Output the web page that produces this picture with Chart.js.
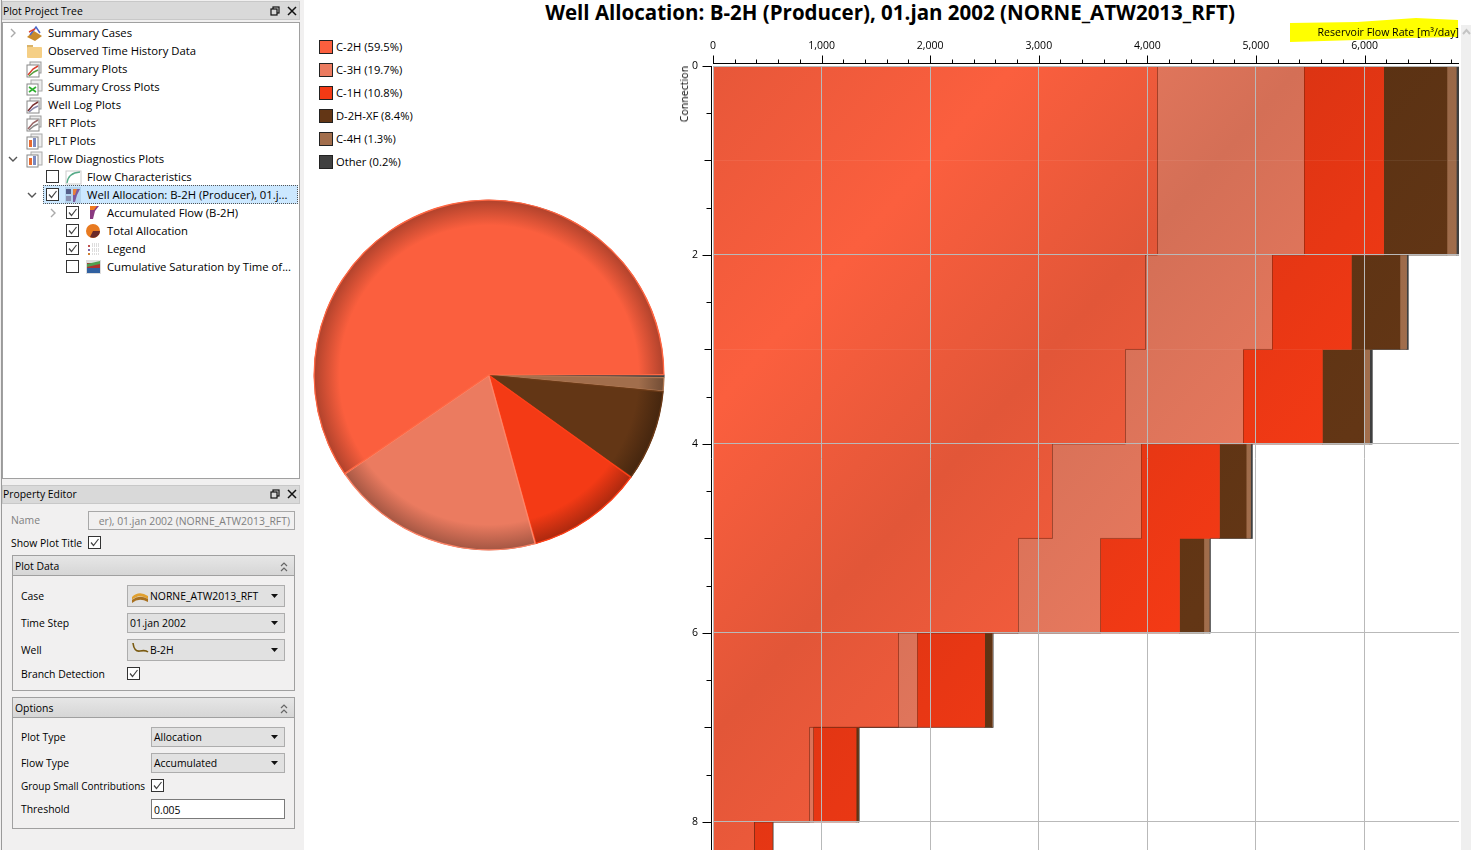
<!DOCTYPE html>
<html><head><meta charset="utf-8">
<script src="https://cdn.jsdelivr.net/npm/chart.js@4"></script>
<style>
html,body{margin:0;padding:0;background:#fff;width:1471px;height:850px;overflow:hidden;font-family:"Open Sans",sans-serif;font-size:11.3px;color:#000}
.a{position:absolute;white-space:nowrap}
.t{line-height:16px;transform:translateY(-8px)}
canvas{position:absolute}
.cb{position:absolute;width:11px;height:11px;border:1px solid #333;background:#fff}
.combo{position:absolute;background:#e1e1e1;border:1px solid #adadad;box-sizing:border-box}
.hdr{position:absolute;background:#d9d9d9;box-sizing:border-box}
.box{position:absolute;border:1px solid #a0a0a0;box-sizing:border-box}
</style></head><body>
<div class="a" style="left:0;top:0;width:304px;height:850px;background:#f1f0f0"></div>
<div class="a" style="left:1px;top:0;width:1px;height:850px;background:#9a9a9a"></div>
<div class="hdr" style="left:2px;top:1px;width:298px;height:19px;border:1px solid #c8c8c8"></div>
<div class="box" style="left:2px;top:22px;width:298px;height:457px;background:#fff"></div>
<div class="a" style="left:43px;top:185px;width:255px;height:19px;background:#cce8ff;border:1px dotted #555;box-sizing:border-box"></div>
<div class="hdr" style="left:2px;top:485px;width:298px;height:19px;border:1px solid #c8c8c8"></div>
<div class="box" style="left:12px;top:555px;width:283px;height:136px"></div>
<div class="hdr" style="left:13px;top:556px;width:281px;height:20px;background:linear-gradient(#e6e6e6,#d6d6d6);border-bottom:1px solid #a0a0a0"></div>
<div class="box" style="left:12px;top:697px;width:283px;height:132px"></div>
<div class="hdr" style="left:13px;top:698px;width:281px;height:20px;background:linear-gradient(#e6e6e6,#d6d6d6);border-bottom:1px solid #a0a0a0"></div>
<div class="a" style="left:1290px;top:18px;width:168px;height:24px;background:#ffff00;clip-path:polygon(0 5px,40% 4px,75% 0,100% 2px,100% 19px,70% 20px,40% 22px,0 24px)"></div>
<div class="a" style="left:1461px;top:25px;width:10px;height:825px;background:#efefef"></div>
<svg class="a" style="left:1462px;top:28px" width="9" height="8"><path d="M1 6 L4.5 2 L8 6" fill="none" stroke="#c4c4c4" stroke-width="2"/></svg>
<div id="ui"></div>
<div class="a" id="title" style="left:490px;top:0;width:800px;text-align:center;font-weight:700;font-size:20.5px;line-height:24px">Well Allocation: B-2H (Producer), 01.jan 2002 (NORNE_ATW2013_RFT)</div>
<div id="legend"></div>
<canvas id="pie" width="370" height="370" style="left:304px;top:190px;width:370px;height:370px"></canvas>
<canvas id="flow" width="801" height="850" style="left:670px;top:22px;width:801px;height:850px"></canvas>
<div class="a" style="left:676px;top:66px;line-height:16px;font-size:10.6px;writing-mode:vertical-rl;transform:rotate(180deg)">Connection</div>
<script>
// ---- data ----
const seriesNames = ["C-2H","C-3H","C-1H","D-2H-XF","C-4H","Other"];
const totalPercent = [59.5,19.7,10.8,8.4,1.3,0.2];
const seriesColors = ["#fb5f3e","#eb7b60","#f43a15","#633615","#a26e4c","#404040"];
const connections = [0.5,1.5,2.5,3.5,4.5,5.5,6.5,7.5,8.5];
const flowC2H = [4091,4091,3980,3794,3119,2806,1708,886,380];
const flowC3H = [1349,1349,1166,1085,822,761,172,38,0];
const flowC1H = [736,736,733,733,723,729,622,394,166];
const flowD2H = [583,583,447,386,246,224,65,22,2];
const flowC4H = [86,86,61,49,40,50,6,2,0];
const flowOther = [22,22,13,22,15,9,2,1,0];
const flows = [flowC2H,flowC3H,flowC1H,flowD2H,flowC4H,flowOther];
const flowTicks = [0,1000,2000,3000,4000,5000,6000];
const connectionTicks = [0,2,4,6,8];
const FLOW_MAX = 6870, CONN_MAX = 8.305;

// ---- panel text ----
const ui = document.getElementById('ui');
function txt(s,x,y,extra){ui.insertAdjacentHTML('beforeend',`<div class="a t" style="left:${x}px;top:${y}px;${extra||''}">${s}</div>`)}
function cb(x,y,on){ui.insertAdjacentHTML('beforeend',`<div class="cb" style="left:${x}px;top:${y}px">${on?'<svg width="11" height="11" style="display:block"><path d="M2 5.5 L4.5 8.5 L9.5 2" fill="none" stroke="#444" stroke-width="1.2"/></svg>':''}</div>`)}
function svg(x,y,w,h,b){ui.insertAdjacentHTML('beforeend',`<svg class="a" style="left:${x}px;top:${y}px" width="${w}" height="${h}">${b}</svg>`)}
function arrow(x,y,down,col){svg(x,y,10,10,down?`<path d="M1 3 L5 7 L9 3" fill="none" stroke="${col}" stroke-width="1.4"/>`:`<path d="M3 1 L7 5 L3 9" fill="none" stroke="${col}" stroke-width="1.4"/>`)}
const stack=(c1,c2)=>`<rect x="4" y="1" width="11" height="11" fill="#eee" stroke="#999"/><rect x="1" y="4" width="12" height="12" fill="#fff" stroke="#888"/><path d="M2 14 L7 8 L12 5" stroke="${c1}" fill="none" stroke-width="1.5"/><path d="M3 15 L8 11 L12 9" stroke="${c2}" fill="none" stroke-width="1.5"/>`;
const icons={
 cases:`<path d="M1 12 L8 6 L16 11 L9 16Z" fill="#c98a2a"/><path d="M4 10 L10 2 L14 8" fill="none" stroke="#4a66c8" stroke-width="1.5"/><path d="M3 7 L9 4" stroke="#e04030" stroke-width="1.4"/>`,
 folder:`<rect x="1" y="2" width="6" height="3" fill="#d9b36a"/><rect x="1" y="4" width="15" height="11" rx="1" fill="#f5cf86"/>`,
 plots:stack('#d84030','#58a040'),
 cross:`<rect x="5" y="1" width="11" height="11" fill="#eee" stroke="#aaa"/><rect x="1" y="5" width="11" height="11" fill="#fff" stroke="#888"/><path d="M3 8 L10 13 M3 13 L10 8" stroke="#30b030" stroke-width="1.6"/>`,
 log:stack('#7a3030','#8888aa'),
 rft:stack('#996666','#888888'),
 plt:`<rect x="5" y="1" width="11" height="13" fill="#eee" stroke="#aaa"/><rect x="1" y="4" width="11" height="12" fill="#fff" stroke="#888"/><rect x="3" y="7" width="3" height="7" fill="#e86a30"/><rect x="7" y="5" width="3" height="9" fill="#7a88c0"/>`,
 flowchar:`<rect x="1" y="2" width="15" height="13" fill="#fff" stroke="#ccc"/><path d="M2 14 Q3 4 15 3" fill="none" stroke="#55aa88" stroke-width="1.3"/>`,
 wellalloc:`<rect x="0" y="0" width="16" height="16" fill="#b4d4ee"/><rect x="1" y="2" width="5" height="5" fill="#55608a"/><rect x="1" y="9" width="5" height="5" fill="#8890b0"/><path d="M8 2 H15 L12 8 L10 15 H8Z" fill="#7a5aa0"/><path d="M8 2 H12 L10 8 H8Z" fill="#e8803a"/>`,
 acc:`<path d="M4 1 H13 L9 6 L7 14 H4Z" fill="#8a3a80"/><path d="M4 1 H11 L8 5 H4Z" fill="#f07a20"/>`,
 total:`<circle cx="8" cy="8" r="7" fill="#e87a20"/><path d="M8 8 L15 8 A7 7 0 0 1 5 14Z" fill="#6a2a2a"/>`,
 legend:`<g fill="#c0504d"><rect x="3" y="4" width="2" height="2"/><rect x="3" y="8" width="2" height="2" fill="#8064a2"/><rect x="3" y="12" width="2" height="2" fill="#d08030"/></g><path d="M7 3h8M7 5h8M7 8h8M7 10h8M7 13h8" stroke="#bbb" stroke-dasharray="1 1"/>`,
 sat:`<rect x="1" y="1" width="15" height="14" fill="#ddd"/><rect x="2" y="4" width="13" height="5" fill="#b03030"/><rect x="2" y="9" width="13" height="5" fill="#3060a0"/><path d="M2 5 L15 2 V5 L2 8Z" fill="#50a050"/>`
};
const tree=[
 ["Summary Cases",48,33,26,'cases'],["Observed Time History Data",48,51,26,'folder'],["Summary Plots",48,69,26,'plots'],
 ["Summary Cross Plots",48,87,26,'cross'],["Well Log Plots",48,105,26,'log'],["RFT Plots",48,123,26,'rft'],
 ["PLT Plots",48,141,26,'plt'],["Flow Diagnostics Plots",48,159,26,'plt'],
 ["Flow Characteristics",87,177,65,'flowchar'],["Well Allocation: B-2H (Producer), 01.j...",87,195,65,'wellalloc'],
 ["Accumulated Flow (B-2H)",107,213,86,'acc'],["Total Allocation",107,231,85,'total'],["Legend",107,249,85,'legend'],
 ["Cumulative Saturation by Time of...",107,267,85,'sat']];
tree.forEach(r=>{txt(r[0],r[1],r[2]);svg(r[3],r[2]-8,17,17,icons[r[4]])});
arrow(8,28,false,'#aaa');arrow(8,154,true,'#555');arrow(27,190,true,'#555');arrow(48,208,false,'#aaa');
cb(46,170,false);cb(46,188,true);cb(66,206,true);cb(66,224,true);cb(66,242,true);cb(66,260,false);
const small='font-size:10.4px;';
txt("Plot Project Tree",3,11,small);txt("Property Editor",3,494,small);
function winBtns(y){svg(270,y,10,10,'<rect x="3" y="1" width="6" height="6" fill="none" stroke="#111" stroke-width="1.2"/><rect x="1" y="3" width="6" height="6" fill="#d9d9d9" stroke="#111" stroke-width="1.2"/>');svg(287,y,10,10,'<path d="M1 1 L9 9 M9 1 L1 9" stroke="#111" stroke-width="1.5"/>')}
winBtns(6);winBtns(489);
function chev(y){svg(279,y,10,11,'<path d="M2 5 L5 2 L8 5 M2 10 L5 7 L8 10" fill="none" stroke="#666" stroke-width="1.2"/>')}
ui.insertAdjacentHTML('beforeend','<div class="a" style="left:88px;top:511px;width:207px;height:19px;border:1px solid #a8a8a8;box-sizing:border-box;overflow:hidden;color:#808080;line-height:18px;text-align:right;padding-right:4px;font-size:10.4px">er), 01.jan 2002 (NORNE_ATW2013_RFT)</div>');
txt("Name",11,520,small+'color:#808080');txt("Show Plot Title",11,543,small);cb(88,536,true);
txt("Plot Data",15,566,small);chev(561);txt("Options",15,708,small);chev(703);
function combo(x,y,w,h,s,tx,ic){ui.insertAdjacentHTML('beforeend',`<div class="combo" style="left:${x}px;top:${y}px;width:${w}px;height:${h}px"></div>`);txt(s,tx,y+h/2,'font-size:10.4px');svg(x+w-14,y+h/2-3,8,6,'<path d="M0 1 H7 L3.5 5Z" fill="#111"/>');if(ic)svg(x+5,y+3,18,16,ic)}
txt("Case",21,596,small);combo(127,585,158,22,"NORNE_ATW2013_RFT",150,'<path d="M0 9 Q7 2 16 8 V11 Q7 5 0 12Z" fill="#e0a030"/><path d="M0 12 Q7 6 16 11 V14 Q7 9 0 15Z" fill="#a87020"/>');
txt("Time Step",21,623,small);combo(127,613,158,20,"01.jan 2002",130);
txt("Well",21,650,small);combo(127,639,158,22,"B-2H",150,'<path d="M1 1 Q2 10 8 9 T16 10" fill="none" stroke="#7a5a10" stroke-width="1.6"/>');
txt("Branch Detection",21,674,small);cb(127,667,true);
txt("Plot Type",21,737,small);combo(151,727,134,20,"Allocation",154);
txt("Flow Type",21,763,small);combo(151,753,134,20,"Accumulated",154);
txt("Group Small Contributions",21,786,'font-size:10px');cb(151,779,true);
txt("Threshold",21,809,small);
ui.insertAdjacentHTML('beforeend','<div class="a" style="left:151px;top:799px;width:134px;height:20px;background:#fff;border:1px solid #7a7a7a;box-sizing:border-box"></div>');txt("0.005",154,810,small);

// ---- legend ----
const lg=document.getElementById('legend');
seriesNames.forEach((n,i)=>{const y=47+23*i;
 lg.insertAdjacentHTML('beforeend',`<div class="a" style="left:319px;top:${y-7}px;width:12px;height:12px;border:1px solid #222;background:${seriesColors[i]}"></div><div class="a t" style="left:336px;top:${y}px;font-size:11.2px">${n} (${totalPercent[i]}%)</div>`)});

// ---- helpers ----
function shade(hex,f){const n=parseInt(hex.slice(1),16);const c=v=>Math.min(255,Math.round(v*f));return `rgb(${c(n>>16)},${c((n>>8)&255)},${c(n&255)})`}
Chart.defaults.animation=false;
Chart.defaults.font.family='"Open Sans",sans-serif';
Chart.defaults.color='#000';

// ---- pie ----
const pieOrder=[...seriesNames.keys()].reverse();
new Chart(document.getElementById('pie'),{
 type:'pie',
 data:{labels:pieOrder.map(i=>seriesNames[i]),datasets:[{
  data:pieOrder.map(i=>totalPercent[i]),
  backgroundColor(c){
    const col=seriesColors[pieOrder[c.dataIndex]];
    const a=c.chart.chartArea;if(!a)return col;
    const cx=(a.left+a.right)/2,cy=(a.top+a.bottom)/2;
    const g=c.chart.ctx.createRadialGradient(cx,cy,0,cx,cy,176);
    g.addColorStop(0,col);g.addColorStop(0.85,col);g.addColorStop(0.985,shade(col,0.72));g.addColorStop(1,shade(col,0.72));
    return g;
  },
  borderColor:pieOrder.map(i=>shade(seriesColors[i],1.08)),borderWidth:1,borderAlign:'inner'
 }]},
 options:{responsive:false,rotation:90,radius:175.5,plugins:{legend:{display:false},tooltip:{enabled:false}}}
});

// ---- stacked flow chart ----
function bandFill(ctx,col){
  const g=ctx.createLinearGradient(43,44,853,754);
  [[0,0.92],[0.21,1],[0.41,0.9],[0.67,1],[1,0.93]].forEach(s=>g.addColorStop(s[0],shade(col,s[1])));
  return g;
}
const axesPlugin={
 id:'axesPlugin',
 afterDatasetsDraw(chart){
  const {ctx,scales:{x,y},chartArea:a}=chart;
  ctx.save();
  ctx.beginPath();ctx.rect(a.left,a.top,a.right-a.left,a.bottom-a.top);ctx.clip();
  [[0,'rgba(110,35,15,.55)'],[1,'rgba(120,35,10,.55)'],[5,'rgba(60,60,60,.5)']].forEach(([k,col])=>{
    ctx.beginPath();
    connections.forEach((c,i)=>{
      let sum=0;for(let s=0;s<=k;s++)sum+=flows[s][i];
      const px=Math.round(x.getPixelForValue(sum))+.5,t=y.getPixelForValue(c-.5),b=y.getPixelForValue(c+.5);
      if(i===0)ctx.moveTo(px,t);else ctx.lineTo(px,t);
      ctx.lineTo(px,b);
    });
    ctx.strokeStyle=col;ctx.lineWidth=1;ctx.stroke();
  });
  ctx.restore();
 },
 afterDraw(chart){
  const {ctx,scales:{x,y},chartArea:a}=chart;
  ctx.save();ctx.strokeStyle='#000';ctx.lineWidth=1;ctx.beginPath();
  const ax=a.top-2.5, ay=a.left-1.5;
  ctx.moveTo(a.left,ax);ctx.lineTo(a.right,ax);
  for(let v=0;v<=FLOW_MAX;v+=200){const p=Math.round(x.getPixelForValue(v))+.5;ctx.moveTo(p,ax);ctx.lineTo(p,ax-(v%1000===0?8:4));}
  ctx.moveTo(ay,a.top);ctx.lineTo(ay,a.bottom);
  for(let v=0;v<=CONN_MAX;v+=.5){const p=Math.round(y.getPixelForValue(v))+.5;const len=v%2===0?9:(v%1===0?7:5);ctx.moveTo(ay,p);ctx.lineTo(ay-len,p);}
  ctx.stroke();ctx.restore();
 }
};
const fmt=v=>v.toLocaleString('en-US');
const asTicks=list=>list.map(v=>({value:v}));
new Chart(document.getElementById('flow'),{
 type:'bar',
 plugins:[axesPlugin],
 data:{datasets:seriesNames.map((n,i)=>({
   label:n,
   data:connections.map((c,j)=>({x:flows[i][j],y:c})),
   backgroundColor:c=>bandFill(c.chart.ctx,seriesColors[i]),
   barPercentage:1,categoryPercentage:1,borderWidth:0
 }))},
 options:{
  indexAxis:'y',responsive:false,
  layout:{autoPadding:false,padding:{left:0,right:12,top:0,bottom:0}},
  plugins:{legend:{display:false},tooltip:{enabled:false}},
  scales:{
   x:{type:'linear',position:'top',stacked:true,min:0,max:FLOW_MAX,offset:false,
      afterFit(s){s.height=44},
      afterBuildTicks(s){s.ticks=asTicks(flowTicks)},
      ticks:{maxRotation:0,autoSkip:false,padding:14,font:{size:10.5},callback:fmt},
      grid:{offset:false,color:'#b9b9b9',lineWidth:1,drawTicks:false,z:1},border:{display:false},
      title:{display:true,text:'Reservoir Flow Rate [m³/day]',align:'end',padding:{top:5,bottom:0},font:{size:10.6}}},
   y:{type:'linear',position:'left',stacked:true,reverse:true,min:0,max:CONN_MAX,offset:false,
      afterFit(s){s.width=43},
      afterBuildTicks(s){s.ticks=asTicks(connectionTicks)},
      ticks:{autoSkip:false,padding:15,font:{size:10.5}},
      grid:{offset:false,color:'#b9b9b9',lineWidth:1,drawTicks:false,z:1},border:{display:false}}
  }
 }
});
</script>
</body></html>
